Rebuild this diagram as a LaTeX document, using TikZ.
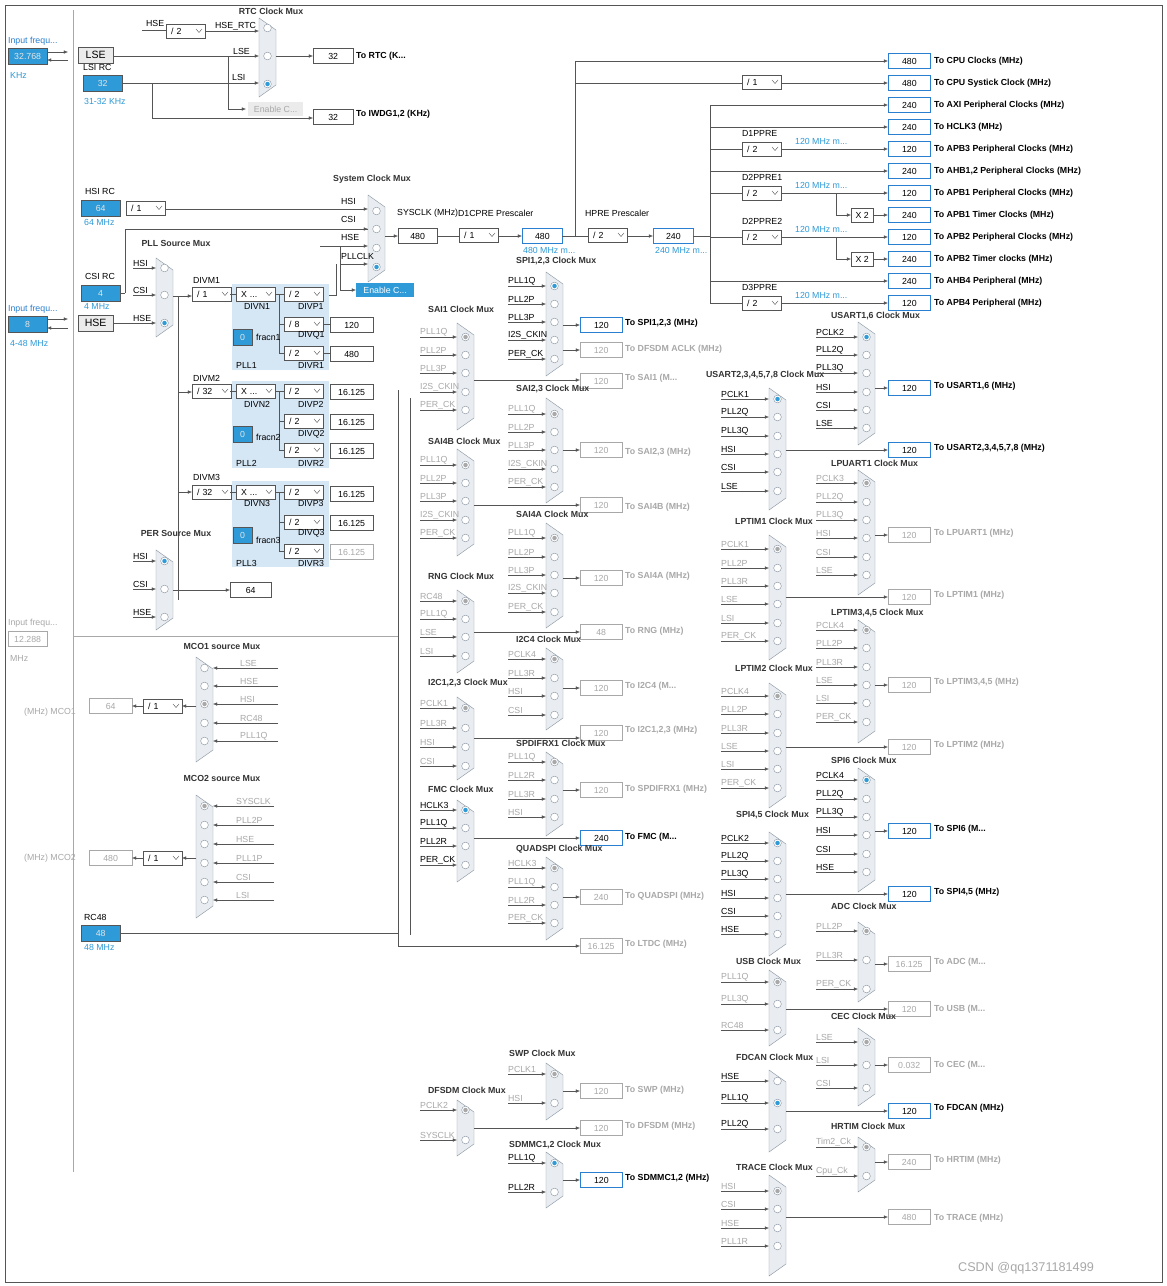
\documentclass[tikz,border=0pt]{standalone}
\usepackage{fontspec}
\setmainfont{Liberation Sans}
\usetikzlibrary{arrows.meta}
\definecolor{bl}{HTML}{2E9AD8}
\definecolor{bd}{HTML}{2B7FD0}
\definecolor{gr}{HTML}{A8A8A8}
\definecolor{mf}{HTML}{E9EDF1}
\definecolor{mb}{HTML}{8A96A3}
\definecolor{pf}{HTML}{D5E6F5}
\definecolor{ln}{HTML}{555555}
\tikzset{
 f/.style={font=\fontsize{12.5}{13}\selectfont},
 fb/.style={font=\bfseries\fontsize{12.5}{13}\selectfont},
 lbl/.style={f,inner sep=0pt,anchor=south west},
 ttl/.style={fb,inner sep=0pt,text=black!80},
 wire/.style={draw=ln,line width=0.6pt},
 arr/.style={wire,-{Latex[length=6pt,width=5pt]}},
 muxs/.style={fill=mf,draw=mb,line width=0.6pt},
 circs/.style={draw=mb,fill=white,line width=0.6pt},
}
\newcommand\Mb[3]{\filldraw[muxs] (#1,#2)--(#1+17,#2+12)--(#1+17,#3-12)--(#1,#3)--cycle;}
\newcommand\Mi[5]{\draw[arr] (#1,#3)--(#2,#3);\node[lbl,text=#5] at (#1,#3-1) {#4};\draw[circs] (#2+8.5,#3) circle[radius=5.5pt];}
\newcommand\Mr[5]{\draw[arr] (#1+38,#3)--(#2+17,#3);\node[lbl,text=#5] at (#1,#3-1) {#4};\draw[circs] (#2+8.5,#3) circle[radius=5.5pt];}
\newcommand\Sd[3]{\fill[#3] (#1+8.5,#2) circle[radius=3.2pt];}
\newcommand\Bx[4]{\node[f,draw=bd,line width=1.1pt,fill=white,minimum width=#3*0.05cm,minimum height=0.72cm,inner sep=0,anchor=west] at (#1,#2) {#4};}
\newcommand\Wx[4]{\node[f,draw=ln,line width=0.5pt,fill=white,minimum width=#3*0.05cm,minimum height=0.75cm,inner sep=0,anchor=west] at (#1,#2) {#4};}
\newcommand\Gx[4]{\node[f,text=gr,draw=gr,line width=0.5pt,fill=white,minimum width=#3*0.05cm,minimum height=0.75cm,inner sep=0,anchor=west] at (#1,#2) {#4};}
\newcommand\Fx[4]{\node[f,text=white!90!black,draw=ln,fill=bl,line width=0.5pt,minimum width=#3*0.05cm,minimum height=0.8cm,inner sep=0,anchor=west] at (#1,#2) {#4};}
\newcommand\Dd[3]{\node[f,draw=ln,line width=0.5pt,fill=white,minimum width=1.95cm,minimum height=0.68cm,inner sep=0,anchor=west,text width=1.6cm] at (#1,#2) {\,#3};\draw[ln,line width=0.6pt] (#1+30,#2-2)--(#1+33,#2+1.5)--(#1+36,#2-2);}
\newcommand\Lt[4]{\node[#4,inner sep=0,anchor=west] at (#1,#2) {#3};}
\begin{document}
\begin{tikzpicture}[x=0.05cm,y=-0.05cm]
\useasboundingbox (0,0) rectangle (1167,1286);
\fill[white] (0,0) rectangle (1167,1286);
\draw[ln,line width=0.8pt] (5,5) rectangle (1162,1282);
\draw[gr,line width=0.8pt] (73,10)--(73,1172);
\fill[pf] (232,284) rectangle (329,370);
\fill[pf] (232,381) rectangle (329,468);
\fill[pf] (232,481) rectangle (329,567);
% ---------- top left
\Lt{8}{41}{Input frequ...}{f,text=bd}
\Fx{8}{56}{39}{32.768}
\Lt{10}{75}{KHz}{f,text=bl}
\node[f,draw=ln,fill=black!8,minimum width=1.75cm,minimum height=0.8cm,inner sep=0,anchor=west] (lse) at (78,55) {\fontsize{15}{15}\selectfont LSE};
\draw[arr] (47,52)--(68,52); \draw[arr] (68,60)--(47,60);
\Lt{83}{67}{LSI RC}{f}
\Fx{83}{83}{39}{32}
\Lt{84}{101}{31-32 KHz}{f,text=bl}
\Lt{146}{23}{HSE}{f}
\Dd{166}{31}{/ 2}
\draw[wire] (142,30)--(166,30);
\node[ttl] at (271,11) {RTC Clock Mux};
\Mb{259}{18}{97}
\draw[arr] (205,31)--(259,31); \node[lbl] at (215,30) {HSE\_RTC}; \draw[circs] (267.5,28) circle[radius=5.5pt];
\draw[arr] (113,56)--(259,56); \node[lbl] at (233,55) {LSE}; \draw[circs] (267.5,56) circle[radius=5.5pt];
\draw[arr] (122,83)--(259,83); \node[lbl] at (232,81) {LSI}; \draw[circs] (267.5,84) circle[radius=5.5pt];
\Sd{259}{84}{bl}
\draw[wire] (228,56)--(228,109); \draw[arr] (228,109)--(246,109);
\node[f,text=gr,fill=black!8,minimum width=2.75cm,minimum height=0.7cm,inner sep=0,anchor=west] at (248,109) {Enable C...};
\draw[arr] (276,56)--(313,56); \Wx{313}{56}{40}{32} \Lt{356}{56}{To RTC (K...}{fb}
\draw[wire] (152,83)--(152,118); \draw[arr] (152,118)--(313,118);
\Wx{313}{117}{40}{32} \Lt{356}{114}{To IWDG1,2 (KHz)}{fb}
% ---------- HSI / CSI / HSE
\Lt{85}{191}{HSI RC}{f}
\Fx{81}{208}{39}{64}
\Lt{84}{222}{64 MHz}{f,text=bl}
\Dd{126}{208}{/ 1}
\node[ttl] at (372,179) {System Clock Mux};
\Mb{368}{195}{282}
\draw[arr] (165,209)--(368,209); \node[lbl] at (341,205) {HSI}; \draw[circs] (376.5,211) circle[radius=5.5pt];
\draw[wire] (125,229)--(368,229); \draw[arr] (340,229)--(368,229); \node[lbl] at (341,223) {CSI}; \draw[circs] (376.5,229) circle[radius=5.5pt];
\draw[arr] (320,246)--(368,246); \node[lbl] at (341,241) {HSE}; \draw[circs] (376.5,248) circle[radius=5.5pt];
\draw[arr] (340,264)--(368,264); \node[lbl] at (341,260) {PLLCLK}; \draw[circs] (376.5,267) circle[radius=5.5pt];
\Sd{368}{267}{bl}
\draw[wire] (329,295)--(336,295)--(336,264); \draw[wire] (340,246)--(340,290); \draw[arr] (340,290)--(356,290);
\node[f,text=white,fill=bl,minimum width=2.9cm,minimum height=0.72cm,inner sep=0,anchor=west] at (356,290) {Enable C...};
\draw[arr] (385,236)--(398,236);
\Lt{397}{213}{SYSCLK (MHz)}{f}
\Wx{398}{236}{39}{480}
\Lt{458}{213}{D1CPRE Prescaler}{f}
\draw[wire] (437,236)--(459,236); \Dd{459}{235}{/ 1}
\draw[arr] (498,236)--(522,236); \Bx{522}{236}{40}{480}
\Lt{523}{250}{480 MHz m...}{f,text=bl}
\Lt{585}{213}{HPRE Prescaler}{f}
\draw[wire] (562,236)--(588,236); \Dd{588}{235}{/ 2}
\draw[arr] (627,236)--(653,236); \Bx{653}{236}{40}{240}
\Lt{655}{250}{240 MHz m...}{f,text=bl}
% ---------- right outputs
\draw[wire] (575,236)--(575,61); \draw[wire] (575,83)--(742,83);
\Dd{742}{82}{/ 1}
\draw[wire] (693,236)--(710,236); \draw[wire] (710,105)--(710,303);
\foreach \yy/\v/\t in {61/480/To CPU Clocks (MHz),83/480/To CPU Systick Clock (MHz),105/240/To AXI Peripheral Clocks (MHz),127/240/To HCLK3 (MHz),149/120/To APB3 Peripheral Clocks (MHz),171/240/To AHB1{,}2 Peripheral Clocks (MHz),193/120/To APB1 Peripheral Clocks (MHz),215/240/To APB1 Timer Clocks (MHz),237/120/To APB2 Peripheral Clocks (MHz),259/240/To APB2 Timer clocks (MHz),281/240/To AHB4 Peripheral (MHz),303/120/To APB4 Peripheral (MHz)}{
 \Bx{888}{\yy}{42}{\v} \Lt{934}{\yy}{\t}{fb}}
\draw[arr] (575,61)--(888,61); \draw[arr] (781,83)--(888,83);
\draw[arr] (710,105)--(888,105); \draw[arr] (710,127)--(888,127); \draw[arr] (710,171)--(888,171); \draw[arr] (710,281)--(888,281);
\foreach \yy/\n in {149/D1PPRE,193/D2PPRE1,237/D2PPRE2,303/D3PPRE}{
 \Lt{742}{\yy-16}{\n}{f} \draw[wire] (710,\yy)--(742,\yy); \Dd{742}{\yy}{/ 2}
 \draw[arr] (781,\yy)--(888,\yy); \Lt{795}{\yy-8}{120 MHz m...}{f,text=bl}}
\foreach \yy in {215,259}{
 \draw[wire] (836,\yy-22)--(836,\yy); \draw[arr] (836,\yy)--(851,\yy);
 \node[f,draw=ln,fill=white,minimum width=1.1cm,minimum height=0.68cm,inner sep=0,anchor=west] at (851,\yy) {X 2};
 \draw[arr] (873,\yy)--(888,\yy);}
% ---------- CSI / HSE
\Lt{85}{276}{CSI RC}{f}
\Fx{81}{293}{39}{4}
\Lt{84}{306}{4 MHz}{f,text=bl}
\Lt{8}{309}{Input frequ...}{f,text=bd}
\Fx{8}{324}{39}{8}
\Lt{10}{343}{4-48 MHz}{f,text=bl}
\node[f,draw=ln,fill=black!8,minimum width=1.75cm,minimum height=0.8cm,inner sep=0,anchor=west] at (78,323) {\fontsize{15}{15}\selectfont HSE};
\draw[arr] (47,319)--(68,319); \draw[arr] (68,328)--(47,328);
\draw[wire] (125,229)--(125,293); \draw[wire] (120,293)--(125,293);
\node[ttl] at (176,243) {PLL Source Mux};
\Mb{156}{258}{337}
\Mi{133}{156}{268}{HSI}{black}
\Mi{133}{156}{295}{CSI}{black}
\Mi{133}{156}{323}{HSE}{black}
\Sd{156}{323}{bl}
\draw[wire] (113,323)--(133,323);
% PLL1
\draw[arr] (173,296)--(192,296);
\draw[wire] (178,296)--(178,600);
\Lt{193}{280}{DIVM1}{f} \Dd{192}{294}{/ 1}
\Dd{236}{294}{X ...} \Dd{284}{294}{/ 2} \Dd{284}{324}{/ 8} \Dd{284}{353}{/ 2}
\draw[wire] (230,294)--(236,294); \draw[wire] (276,294)--(284,294);
\draw[wire] (279,294)--(279,353)--(284,353); \draw[wire] (279,324)--(284,324);
\Lt{244}{306}{DIVN1}{f} \Lt{298}{306}{DIVP1}{f} \Lt{298}{335}{DIVQ1}{f} \Lt{298}{365}{DIVR1}{f}
\Fx{233}{337}{19}{0} \Lt{256}{337}{fracn1}{f} \Lt{236}{365}{PLL1}{f}
\Wx{330}{325}{43}{120} \Wx{330}{354}{43}{480}
\draw[wire] (323,324)--(330,324); \draw[wire] (323,353)--(330,353);
% PLL2
\draw[arr] (178,392)--(192,392);
\Lt{193}{378}{DIVM2}{f} \Dd{192}{391}{/ 32}
\Dd{236}{391}{X ...} \Dd{284}{391}{/ 2} \Dd{284}{421}{/ 2} \Dd{284}{450}{/ 2}
\draw[wire] (230,391)--(236,391); \draw[wire] (276,391)--(284,391);
\draw[wire] (279,391)--(279,450)--(284,450); \draw[wire] (279,421)--(284,421);
\Lt{244}{404}{DIVN2}{f} \Lt{298}{404}{DIVP2}{f} \Lt{298}{434}{DIVQ2}{f} \Lt{298}{463}{DIVR2}{f}
\Fx{233}{434}{19}{0} \Lt{256}{437}{fracn2}{f} \Lt{236}{463}{PLL2}{f}
\Wx{330}{392}{43}{16.125} \Wx{330}{422}{43}{16.125} \Wx{330}{451}{43}{16.125}
% PLL3
\draw[arr] (178,492)--(192,492);
\Lt{193}{477}{DIVM3}{f} \Dd{192}{492}{/ 32}
\Dd{236}{492}{X ...} \Dd{284}{492}{/ 2} \Dd{284}{522}{/ 2} \Dd{284}{551}{/ 2}
\draw[wire] (230,492)--(236,492); \draw[wire] (276,492)--(284,492);
\draw[wire] (279,492)--(279,551)--(284,551); \draw[wire] (279,522)--(284,522);
\Lt{244}{503}{DIVN3}{f} \Lt{298}{503}{DIVP3}{f} \Lt{298}{533}{DIVQ3}{f} \Lt{298}{563}{DIVR3}{f}
\Fx{233}{535}{19}{0} \Lt{256}{540}{fracn3}{f} \Lt{236}{563}{PLL3}{f}
\Wx{330}{494}{43}{16.125} \Wx{330}{523}{43}{16.125} \Gx{330}{552}{43}{16.125}
% PER source
\node[ttl] at (176,533) {PER Source Mux};
\Mb{156}{550}{630}
\Mi{133}{156}{561}{HSI}{black}
\Mi{133}{156}{589}{CSI}{black}
\Mi{133}{156}{617}{HSE}{black}
\Sd{156}{561}{bl}
\draw[arr] (173,590)--(230,590); \Wx{230}{590}{41}{64}
\Lt{8}{623}{Input frequ...}{f,text=gr}
\Gx{8}{639}{39}{12.288}
\Lt{10}{658}{MHz}{f,text=gr}
\draw[gr,line width=0.5pt] (73,636)--(398,636);
% MCO1
\node[ttl] at (222,646) {MCO1 source Mux};
\Mb{196}{657}{762}
\foreach \yy/\t in {668/LSE,686/HSE,704/HSI,723/RC48,741/PLL1Q}{\Mr{240}{196}{\yy}{\t}{gr}}
\Sd{196}{704}{gr}
\Lt{24}{712}{(MHz) MCO1}{f,text=gr}
\Gx{89}{706}{43}{64} \Dd{143}{706}{/ 1}
\draw[arr] (196,706)--(182,706); \draw[arr] (143,706)--(132,706);
% MCO2
\node[ttl] at (222,778) {MCO2 source Mux};
\Mb{196}{795}{918}
\foreach \yy/\t in {806/SYSCLK,825/PLL2P,844/HSE,863/PLL1P,882/CSI,900/LSI}{\Mr{236}{196}{\yy}{\t}{gr}}
\Sd{196}{806}{gr}
\Lt{24}{858}{(MHz) MCO2}{f,text=gr}
\Gx{89}{858}{43}{480} \Dd{143}{858}{/ 1}
\draw[arr] (196,858)--(182,858); \draw[arr] (143,858)--(132,858);
% RC48
\Lt{84}{917}{RC48}{f}
\Fx{81}{933}{39}{48}
\Lt{84}{947}{48 MHz}{f,text=bl}
\draw[wire] (120,933)--(398,933);
\draw[wire] (398,390)--(398,946); \draw[wire] (410,398)--(410,935);
\draw[arr] (398,946)--(580,946);
% ---------- column 1 (x=457)
\node[ttl,anchor=west] at (428,309) {SAI1 Clock Mux};
\Mb{457}{323}{430}
\foreach \yy/\t in {337/PLL1Q,355/PLL2P,373/PLL3P,392/I2S\_CKIN,410/PER\_CK}{\Mi{420}{457}{\yy}{\t}{gr}}
\Sd{457}{337}{gr}
\draw[arr] (474,380)--(580,380); \Gx{580}{381}{42}{120} \Lt{625}{378}{To SAI1 (M...}{fb,text=gr}
\node[ttl,anchor=west] at (428,441) {SAI4B Clock Mux};
\Mb{457}{449}{556}
\foreach \yy/\t in {465/PLL1Q,483/PLL2P,501/PLL3P,520/I2S\_CKIN,538/PER\_CK}{\Mi{420}{457}{\yy}{\t}{gr}}
\Sd{457}{465}{gr}
\draw[arr] (474,505)--(580,505); \Gx{580}{505}{42}{120} \Lt{625}{507}{To SAI4B (MHz)}{fb,text=gr}
\node[ttl,anchor=west] at (428,576) {RNG Clock Mux};
\Mb{457}{590}{673}
\foreach \yy/\t in {601/RC48,619/PLL1Q,637/LSE,656/LSI}{\Mi{420}{457}{\yy}{\t}{gr}}
\Sd{457}{601}{gr}
\draw[arr] (474,632)--(580,632); \Gx{580}{632}{42}{48} \Lt{625}{631}{To RNG (MHz)}{fb,text=gr}
\node[ttl,anchor=west] at (428,683) {I2C1,2,3 Clock Mux};
\Mb{457}{697}{780}
\foreach \yy/\t in {708/PCLK1,728/PLL3R,747/HSI,766/CSI}{\Mi{420}{457}{\yy}{\t}{gr}}
\Sd{457}{708}{gr}
\draw[arr] (474,738)--(580,738); \Gx{580}{733}{42}{120} \Lt{625}{730}{To I2C1,2,3 (MHz)}{fb,text=gr}
\node[ttl,anchor=west] at (428,789) {FMC Clock Mux};
\Mb{457}{800}{882}
\foreach \yy/\t in {810/HCLK3,828/PLL1Q,846/PLL2R,865/PER\_CK}{\Mi{420}{457}{\yy}{\t}{black}}
\Sd{457}{810}{bl}
\draw[arr] (474,838)--(580,838); \Bx{580}{838}{42}{240} \Lt{625}{837}{To FMC (M...}{fb}
\node[ttl,anchor=west] at (428,1090) {DFSDM Clock Mux};
\Mb{457}{1100}{1156}
\foreach \yy/\t in {1110/PCLK2,1140/SYSCLK}{\Mi{420}{457}{\yy}{\t}{gr}}
\Sd{457}{1110}{gr}
\draw[arr] (474,1128)--(580,1128); \Gx{580}{1128}{42}{120} \Lt{625}{1126}{To DFSDM (MHz)}{fb,text=gr}
% ---------- column 2 (x=546)
\node[ttl,anchor=west] at (516,261) {SPI1,2,3 Clock Mux};
\Mb{546}{272}{376}
\foreach \yy/\t in {286/PLL1Q,304/PLL2P,322/PLL3P,340/I2S\_CKIN,359/PER\_CK}{\Mi{508}{546}{\yy}{\t}{black}}
\Sd{546}{286}{bl}
\draw[arr] (563,325)--(580,325); \Bx{580}{325}{42}{120} \Lt{625}{323}{To SPI1,2,3 (MHz)}{fb}
\draw[arr] (563,350)--(580,350); \Gx{580}{350}{42}{120} \Lt{625}{349}{To DFSDM ACLK (MHz)}{fb,text=gr}
\node[ttl,anchor=west] at (516,389) {SAI2,3 Clock Mux};
\Mb{546}{398}{503}
\foreach \yy/\t in {414/PLL1Q,432/PLL2P,450/PLL3P,469/I2S\_CKIN,487/PER\_CK}{\Mi{508}{546}{\yy}{\t}{gr}}
\Sd{546}{414}{gr}
\draw[arr] (563,450)--(580,450); \Gx{580}{450}{42}{120} \Lt{625}{452}{To SAI2,3 (MHz)}{fb,text=gr}
\node[ttl,anchor=west] at (516,514) {SAI4A Clock Mux};
\Mb{546}{523}{628}
\foreach \yy/\t in {538/PLL1Q,557/PLL2P,575/PLL3P,593/I2S\_CKIN,612/PER\_CK}{\Mi{508}{546}{\yy}{\t}{gr}}
\Sd{546}{538}{gr}
\draw[arr] (563,578)--(580,578); \Gx{580}{578}{42}{120} \Lt{625}{576}{To SAI4A (MHz)}{fb,text=gr}
\node[ttl,anchor=west] at (516,639) {I2C4 Clock Mux};
\Mb{546}{648}{730}
\foreach \yy/\t in {659/PCLK4,678/PLL3R,696/HSI,715/CSI}{\Mi{508}{546}{\yy}{\t}{gr}}
\Sd{546}{659}{gr}
\draw[arr] (563,688)--(580,688); \Gx{580}{688}{42}{120} \Lt{625}{686}{To I2C4 (M...}{fb,text=gr}
\node[ttl,anchor=west] at (516,743) {SPDIFRX1 Clock Mux};
\Mb{546}{752}{836}
\foreach \yy/\t in {762/PLL1Q,780/PLL2R,799/PLL3R,817/HSI}{\Mi{508}{546}{\yy}{\t}{gr}}
\Sd{546}{762}{gr}
\draw[arr] (563,790)--(580,790); \Gx{580}{790}{42}{120} \Lt{625}{789}{To SPDIFRX1 (MHz)}{fb,text=gr}
\node[ttl,anchor=west] at (516,849) {QUADSPI Clock Mux};
\Mb{546}{857}{940}
\foreach \yy/\t in {868/HCLK3,887/PLL1Q,905/PLL2R,923/PER\_CK}{\Mi{508}{546}{\yy}{\t}{gr}}
\Sd{546}{868}{gr}
\draw[arr] (563,897)--(580,897); \Gx{580}{897}{42}{240} \Lt{625}{896}{To QUADSPI (MHz)}{fb,text=gr}
\Gx{580}{946}{42}{16.125} \Lt{625}{944}{To LTDC (MHz)}{fb,text=gr}
\node[ttl,anchor=west] at (509,1053) {SWP Clock Mux};
\Mb{546}{1063}{1120}
\foreach \yy/\t in {1074/PCLK1,1103/HSI}{\Mi{508}{546}{\yy}{\t}{gr}}
\Sd{546}{1074}{gr}
\draw[arr] (563,1091)--(580,1091); \Gx{580}{1091}{42}{120} \Lt{625}{1090}{To SWP (MHz)}{fb,text=gr}
\node[ttl,anchor=west] at (509,1145) {SDMMC1,2 Clock Mux};
\Mb{546}{1152}{1208}
\foreach \yy/\t in {1163/PLL1Q,1192/PLL2R}{\Mi{508}{546}{\yy}{\t}{black}}
\Sd{546}{1163}{bl}
\draw[arr] (563,1180)--(580,1180); \Bx{580}{1180}{42}{120} \Lt{625}{1178}{To SDMMC1,2 (MHz)}{fb}
% ---------- column 3 (x=769)
\node[ttl,anchor=west] at (706,375) {USART2,3,4,5,7,8 Clock Mux};
\Mb{769}{388}{510}
\foreach \yy/\t in {399/PCLK1,417/PLL2Q,436/PLL3Q,454/HSI,472/CSI,491/LSE}{\Mi{721}{769}{\yy}{\t}{black}}
\Sd{769}{399}{bl}
\draw[arr] (786,450)--(888,450); \Bx{888}{450}{42}{120} \Lt{934}{448}{To USART2,3,4,5,7,8 (MHz)}{fb}
\node[ttl,anchor=west] at (735,521) {LPTIM1 Clock Mux};
\Mb{769}{535}{660}
\foreach \yy/\t in {549/PCLK1,568/PLL2P,586/PLL3R,604/LSE,623/LSI,641/PER\_CK}{\Mi{721}{769}{\yy}{\t}{gr}}
\Sd{769}{549}{gr}
\draw[arr] (786,597)--(888,597); \Gx{888}{597}{42}{120} \Lt{934}{595}{To LPTIM1 (MHz)}{fb,text=gr}
\node[ttl,anchor=west] at (735,668) {LPTIM2 Clock Mux};
\Mb{769}{683}{808}
\foreach \yy/\t in {696/PCLK4,714/PLL2P,733/PLL3R,751/LSE,769/LSI,788/PER\_CK}{\Mi{721}{769}{\yy}{\t}{gr}}
\Sd{769}{696}{gr}
\draw[arr] (786,747)--(888,747); \Gx{888}{747}{42}{120} \Lt{934}{745}{To LPTIM2 (MHz)}{fb,text=gr}
\node[ttl,anchor=west] at (736,815) {SPI4,5 Clock Mux};
\Mb{769}{832}{956}
\foreach \yy/\t in {843/PCLK2,861/PLL2Q,879/PLL3Q,898/HSI,916/CSI,934/HSE}{\Mi{721}{769}{\yy}{\t}{black}}
\Sd{769}{843}{bl}
\draw[arr] (786,894)--(888,894); \Bx{888}{894}{42}{120} \Lt{934}{892}{To SPI4,5 (MHz)}{fb}
\node[ttl,anchor=west] at (736,961) {USB Clock Mux};
\Mb{769}{970}{1046}
\foreach \yy/\t in {982/PLL1Q,1004/PLL3Q,1030/RC48}{\Mi{721}{769}{\yy}{\t}{gr}}
\Sd{769}{982}{gr}
\draw[arr] (786,1009)--(888,1009); \Gx{888}{1009}{42}{120} \Lt{934}{1009}{To USB (M...}{fb,text=gr}
\node[ttl,anchor=west] at (736,1057) {FDCAN Clock Mux};
\Mb{769}{1070}{1152}
\foreach \yy/\t in {1081/HSE,1103/PLL1Q,1129/PLL2Q}{\Mi{721}{769}{\yy}{\t}{black}}
\Sd{769}{1103}{bl}
\draw[arr] (786,1111)--(888,1111); \Bx{888}{1111}{42}{120} \Lt{934}{1108}{To FDCAN (MHz)}{fb}
\node[ttl,anchor=west] at (736,1167) {TRACE Clock Mux};
\Mb{769}{1175}{1276}
\foreach \yy/\t in {1191/HSI,1209/CSI,1228/HSE,1246/PLL1R}{\Mi{721}{769}{\yy}{\t}{gr}}
\Sd{769}{1191}{gr}
\draw[arr] (786,1217)--(888,1217); \Gx{888}{1217}{42}{480} \Lt{934}{1218}{To TRACE (MHz)}{fb,text=gr}
% ---------- column 4 (x=858)
\node[ttl,anchor=west] at (831,316) {USART1,6 Clock Mux};
\Mb{858}{322}{445}
\foreach \yy/\t in {337/PCLK2,355/PLL2Q,373/PLL3Q,392/HSI,410/CSI,428/LSE}{\Mi{816}{858}{\yy}{\t}{black}}
\Sd{858}{337}{bl}
\draw[arr] (875,388)--(888,388); \Bx{888}{388}{42}{120} \Lt{934}{386}{To USART1,6 (MHz)}{fb}
\node[ttl,anchor=west] at (831,463) {LPUART1 Clock Mux};
\Mb{858}{470}{595}
\foreach \yy/\t in {483/PCLK3,502/PLL2Q,520/PLL3Q,538/HSI,557/CSI,575/LSE}{\Mi{816}{858}{\yy}{\t}{gr}}
\Sd{858}{483}{gr}
\draw[arr] (875,535)--(888,535); \Gx{888}{535}{42}{120} \Lt{934}{533}{To LPUART1 (MHz)}{fb,text=gr}
\node[ttl,anchor=west] at (831,613) {LPTIM3,4,5 Clock Mux};
\Mb{858}{620}{743}
\foreach \yy/\t in {630/PCLK4,648/PLL2P,667/PLL3R,685/LSE,703/LSI,722/PER\_CK}{\Mi{816}{858}{\yy}{\t}{gr}}
\Sd{858}{630}{gr}
\draw[arr] (875,685)--(888,685); \Gx{888}{685}{42}{120} \Lt{934}{682}{To LPTIM3,4,5 (MHz)}{fb,text=gr}
\node[ttl,anchor=west] at (831,760) {SPI6 Clock Mux};
\Mb{858}{768}{892}
\foreach \yy/\t in {780/PCLK4,799/PLL2Q,817/PLL3Q,835/HSI,854/CSI,872/HSE}{\Mi{816}{858}{\yy}{\t}{black}}
\Sd{858}{780}{bl}
\draw[arr] (875,831)--(888,831); \Bx{888}{831}{42}{120} \Lt{934}{829}{To SPI6 (M...}{fb}
\node[ttl,anchor=west] at (831,906) {ADC Clock Mux};
\Mb{858}{922}{1002}
\foreach \yy/\t in {931/PLL2P,960/PLL3R,989/PER\_CK}{\Mi{816}{858}{\yy}{\t}{gr}}
\Sd{858}{931}{gr}
\draw[arr] (875,964)--(888,964); \Gx{888}{964}{42}{16.125} \Lt{934}{962}{To ADC (M...}{fb,text=gr}
\node[ttl,anchor=west] at (831,1016) {CEC Clock Mux};
\Mb{858}{1028}{1106}
\foreach \yy/\t in {1042/LSE,1065/LSI,1088/CSI}{\Mi{816}{858}{\yy}{\t}{gr}}
\Sd{858}{1042}{gr}
\draw[arr] (875,1065)--(888,1065); \Gx{888}{1065}{42}{0.032} \Lt{934}{1065}{To CEC (M...}{fb,text=gr}
\node[ttl,anchor=west] at (831,1126) {HRTIM Clock Mux};
\Mb{858}{1137}{1192}
\foreach \yy/\t in {1147/Tim2\_Ck,1176/Cpu\_Ck}{\Mi{816}{858}{\yy}{\t}{gr}}
\Sd{858}{1147}{gr}
\draw[arr] (875,1162)--(888,1162); \Gx{888}{1162}{42}{240} \Lt{934}{1160}{To HRTIM (MHz)}{fb,text=gr}
\node[inner sep=0,anchor=west,text=gr,font=\fontsize{18}{19}\selectfont] at (958,1268) {CSDN @qq1371181499};
\end{tikzpicture}
\end{document}
